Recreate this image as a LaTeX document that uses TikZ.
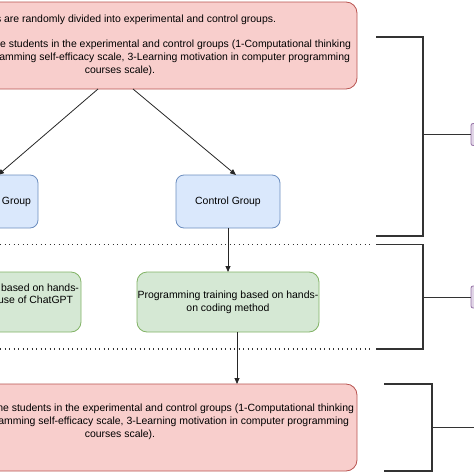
\documentclass[tikz,border=0pt]{standalone}
\usepackage{fontspec}
\setmainfont{Liberation Sans}
\usetikzlibrary{arrows.meta}
\definecolor{pinkfill}{HTML}{F8CECC}
\definecolor{pinkline}{HTML}{B85450}
\definecolor{bluefill}{HTML}{DAE8FC}
\definecolor{blueline}{HTML}{6C8EBF}
\definecolor{greenfill}{HTML}{D5E8D4}
\definecolor{greenline}{HTML}{82B366}
\definecolor{purplefill}{HTML}{E1D5E7}
\definecolor{purpleline}{HTML}{9673A6}
\definecolor{ink}{HTML}{333333}
\tikzset{
  box/.style={rounded corners=9pt, inner sep=0pt, outer sep=0pt, line width=0.8pt, align=center,
    font=\fontsize{10.45}{13.2}\selectfont},
  pinkbox/.style={box, fill=pinkfill, draw=pinkline, rounded corners=11pt},
  bluebox/.style={box, fill=bluefill, draw=blueline, rounded corners=8pt},
  greenbox/.style={box, fill=greenfill, draw=greenline, rounded corners=10pt},
  purplebox/.style={box, fill=purplefill, draw=purpleline, rounded corners=2pt},
  txt/.style={inner sep=0pt, outer sep=0pt, font=\fontsize{10.45}{13.2}\selectfont},
  arr/.style={draw=black!85, line width=0.8pt, -{Triangle[length=6pt,width=5pt]}},
  plain/.style={draw=ink, line width=0.8pt},
  brace/.style={draw=ink, line width=1.9pt},
  dots/.style={draw=ink, line width=1.3pt, dash pattern=on 1.3pt off 3.2pt},
}
\begin{document}
\begin{tikzpicture}[x=1pt,y=-1pt]
\useasboundingbox (0,0) rectangle (474,474);
\clip (0,0) rectangle (474,474);
% boxes
\node[pinkbox, minimum width=474pt, minimum height=87pt] (pre) at (120,45.5) {};
\node[bluebox, minimum width=104pt, minimum height=53pt] (exp) at (-14,201.5) {};
\node[bluebox, minimum width=104pt, minimum height=53pt] (ctrl) at (228,201.5) {Control Group};
\node[greenbox, minimum width=182pt, minimum height=60pt] (trainE) at (-10,302) {};
\node[greenbox, minimum width=182pt, minimum height=60pt] (trainC) at (228,302) {Programming training based on hands-\\on coding method};
\node[pinkbox, minimum width=474pt, minimum height=87pt] (post) at (120,427.5) {};
\node[purplebox, minimum width=60pt, minimum height=22pt] (p1) at (501,134.5) {};
\node[purplebox, minimum width=60pt, minimum height=22pt] (p2) at (501,297) {};
% visible texts
\node[txt, anchor=base east] (t1) at (276,22) {s are randomly divided into experimental and control groups.};
\node[txt, anchor=base east] (t2) at (351,47) {e students in the experimental and control groups (1-Computational thinking};
\node[txt, anchor=base east] (t3) at (350,60.5) {amming self-efficacy scale, 3-Learning motivation in computer programming};
\node[txt, anchor=base] (t4) at (120,73.5) {courses scale).};
\node[txt, anchor=base east] (t5) at (31,204.5) {Group};
\node[txt, anchor=base east] (t6) at (79,291) {based on hands-};
\node[txt, anchor=base east] (t7) at (73,303.5) {use of ChatGPT};
\node[txt, anchor=base east] (t8) at (354,411) {he students in the experimental and control groups (1-Computational thinking};
\node[txt, anchor=base east] (t9) at (349,424.5) {amming self-efficacy scale, 3-Learning motivation in computer programming};
\node[txt, anchor=base] (t10) at (120,437.5) {courses scale).};
% arrows
\draw[arr] ([xshift=-22pt]pre.south) -- ([xshift=12pt]exp.north);
\draw[arr] ([xshift=13pt]pre.south) -- ([xshift=8pt]ctrl.north);
\draw[arr] (ctrl.south) -- (trainC.north);
\draw[arr] ([xshift=9pt]trainC.south) -- ([xshift=117pt]post.north);
% dotted separators
\coordinate (d1a) at (0,244.5); \coordinate (d1b) at (371,244.5);
\coordinate (d2a) at (0,349); \coordinate (d2b) at (371,349);
\draw[dots] (d1a) -- (d1b);
\draw[dots] (d2a) -- (d2b);
% brackets
\coordinate (b1t) at (376,37); \coordinate (b1b) at (376,236);
\draw[brace] (b1t) -| (423,236) -- (b1b);
\draw[plain] (423,134.5) -- (p1.west);
\coordinate (b2t) at (376,244.5); \coordinate (b2b) at (376,349);
\draw[brace] (b2t) -| (423,349) -- (b2b);
\draw[plain] (423,297) -- (p2.west);
\coordinate (b3t) at (384,384); \coordinate (b3b) at (384,471);
\coordinate (b3e) at (480,427.5);
\draw[brace] (b3t) -| (432,471) -- (b3b);
\draw[plain] (432,427.5) -- (b3e);
\end{tikzpicture}
\end{document}
